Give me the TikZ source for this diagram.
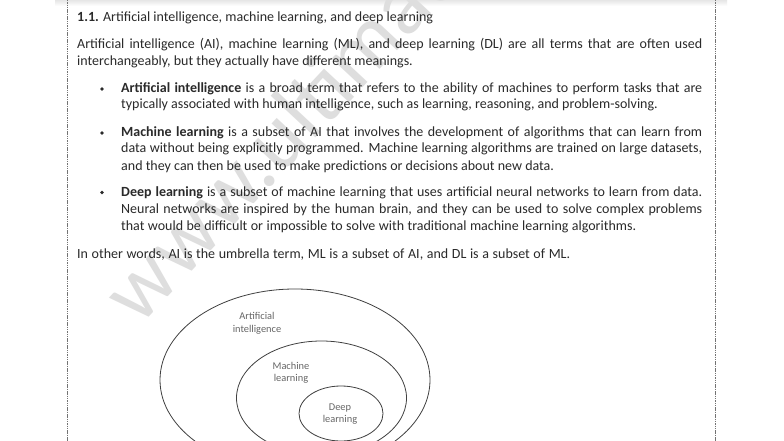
\documentclass[tikz,border=0pt]{standalone}
\usepackage{fontspec}
\setmainfont{Carlito}
\definecolor{ink}{HTML}{2A2A2A}
\definecolor{wm}{HTML}{DEDEDE}
\tikzset{
  txtline/.style={anchor=base west,inner sep=0,text=ink,font=\fontsize{14pt}{16pt}\selectfont},
  dotmark/.style={circle,fill=ink,inner sep=0,minimum size=3.6pt},
  setlabel/.style={anchor=center,inner sep=0,text=black!60,align=center,font=\fontsize{10.4pt}{12.5pt}\selectfont},
  setring/.style={draw=black!75,line width=0.8pt},
  pageedge/.style={draw=black!55,line width=0.7pt,dash pattern=on 1.5pt off 0.8pt},
  watermark/.style={anchor=center,inner sep=0,text=wm,font=\fontsize{88pt}{88pt}\selectfont}
}
\newcommand{\wideline}[1]{\makebox[625pt][s]{#1}}
\newcommand{\itemline}[1]{\makebox[581pt][s]{#1}}
\begin{document}
\begin{tikzpicture}[x=1pt,y=-1pt]
\useasboundingbox (0,0) rectangle (784,441);
\fill[white] (0,0) rectangle (784,441);
\shade[top color=black!10,bottom color=white] (55,0) rectangle (727,6);
\node[watermark,rotate=47] (w) at (290,122) {www.ultimate};
\draw[pageedge] (67,0) -- (67,441);
\draw[pageedge] (715,0) -- (715,441);
\node[txtline] (t) at (77,22) {\textbf{1.1.} Artificial intelligence, machine learning, and deep learning};
\node[txtline] (a1) at (77,49) {\wideline{Artificial intelligence (AI), machine learning (ML), and deep learning (DL) are all terms that are often used}};
\node[txtline] (a2) at (77,65.5) {interchangeably, but they actually have different meanings.};
\node[dotmark] (b1) at (102,89) {};
\node[txtline] (c1) at (121,92.5) {\itemline{\textbf{Artificial intelligence} is a broad term that refers to the ability of machines to perform tasks that are}};
\node[txtline] (c2) at (121,109) {typically associated with human intelligence, such as learning, reasoning, and problem-solving.};
\node[dotmark] (b2) at (102,133) {};
\node[txtline] (d1) at (121,136) {\itemline{\textbf{Machine learning} is a subset of AI that involves the development of algorithms that can learn from}};
\node[txtline] (d2) at (121,152.5) {\itemline{data without being explicitly programmed. Machine learning algorithms are trained on large datasets,}};
\node[txtline] (d3) at (121,170) {and they can then be used to make predictions or decisions about new data.};
\node[dotmark] (b3) at (102,192.5) {};
\node[txtline] (e1) at (121,196) {\itemline{\textbf{Deep learning} is a subset of machine learning that uses artificial neural networks to learn from data.}};
\node[txtline] (e2) at (121,213) {\itemline{Neural networks are inspired by the human brain, and they can be used to solve complex problems}};
\node[txtline] (e3) at (121,230) {\makebox[515pt][s]{that would be difficult or impossible to solve with traditional machine learning algorithms.}};
\node[txtline] (f) at (77,258) {\makebox[493pt][s]{In other words, AI is the umbrella term, ML is a subset of AI, and DL is a subset of ML.}};
\draw[setring] (295,380) ellipse (135 and 91);
\draw[setring] (321.5,398) ellipse (85 and 57);
\draw[setring] (341,413.5) ellipse (42 and 27.5);
\node[setlabel] (l1) at (257,323.5) {Artificial\\intelligence};
\node[setlabel] (l2) at (291,373) {Machine\\learning};
\node[setlabel] (l3) at (340,414) {Deep\\learning};
\end{tikzpicture}
\end{document}
